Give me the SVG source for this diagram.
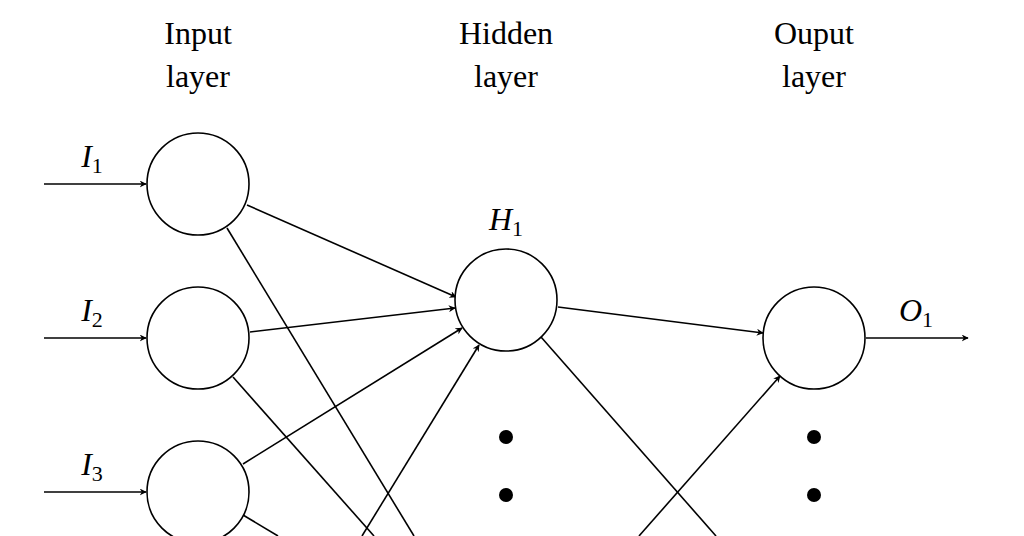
<svg xmlns="http://www.w3.org/2000/svg" width="1024" height="536" viewBox="0 0 1024 536">
<style>
.n{fill:#fff;stroke:#000;stroke-width:1.6}
.e{stroke:#000;stroke-width:1.6;fill:none}
.a{marker-end:url(#ah)}
text{font-family:"Liberation Serif","DejaVu Serif",serif;font-size:32px;fill:#000;text-anchor:middle}
.m{font-style:italic}
.s{font-size:22px;font-style:normal}
</style>
<defs><marker id="ah" viewBox="0 0 10 10" refX="9" refY="5" markerWidth="7" markerHeight="7" markerUnits="userSpaceOnUse" orient="auto"><path d="M0,0 L10,5 L0,10 L3,5 Z" fill="#000"/></marker></defs>
<rect width="1024" height="536" fill="#fff"/>
<g id="headers">
<text x="198" y="44">Input</text><text x="198" y="87">layer</text>
<text x="506" y="44">Hidden</text><text x="506" y="87">layer</text>
<text x="814" y="44">Ouput</text><text x="814" y="87">layer</text>
</g>
<g id="connectors">
<line class="e a" x1="44" y1="184" x2="146" y2="184"/>
<line class="e a" x1="44" y1="338" x2="146" y2="338"/>
<line class="e a" x1="44" y1="492" x2="146" y2="492"/>
<line class="e a" x1="247" y1="205" x2="456" y2="297"/>
<line class="e" x1="227" y1="228" x2="414" y2="536"/>
<line class="e a" x1="250" y1="332" x2="455" y2="308"/>
<line class="e" x1="233" y1="377" x2="374" y2="536"/>
<line class="e a" x1="243" y1="464" x2="462" y2="328"/>
<line class="e" x1="243" y1="515" x2="278" y2="536"/>
<line class="e a" x1="362" y1="536" x2="479" y2="345"/>
<line class="e a" x1="558" y1="307" x2="763" y2="333"/>
<line class="e" x1="541" y1="337" x2="716" y2="536"/>
<line class="e a" x1="639" y1="536" x2="780" y2="376"/>
<line class="e a" x1="866" y1="338" x2="968" y2="338"/>
</g>
<g id="I1"><circle class="n" cx="198" cy="184" r="51"/><text class="m" x="92" y="167">I<tspan class="s" dy="6">1</tspan></text></g>
<g id="I2"><circle class="n" cx="198" cy="338" r="51"/><text class="m" x="92" y="321">I<tspan class="s" dy="6">2</tspan></text></g>
<g id="I3"><circle class="n" cx="198" cy="492" r="51"/><text class="m" x="92" y="475">I<tspan class="s" dy="6">3</tspan></text></g>
<g id="H1"><circle class="n" cx="506" cy="300" r="51"/><text class="m" x="506" y="230">H<tspan class="s" dy="6">1</tspan></text></g>
<g id="O1"><circle class="n" cx="814" cy="338" r="51"/><text class="m" x="916" y="321">O<tspan class="s" dy="6">1</tspan></text></g>
<g id="dots">
<circle cx="506" cy="437" r="7"/><circle cx="506" cy="495" r="7"/>
<circle cx="814" cy="437" r="7"/><circle cx="814" cy="495" r="7"/>
</g>
</svg>
